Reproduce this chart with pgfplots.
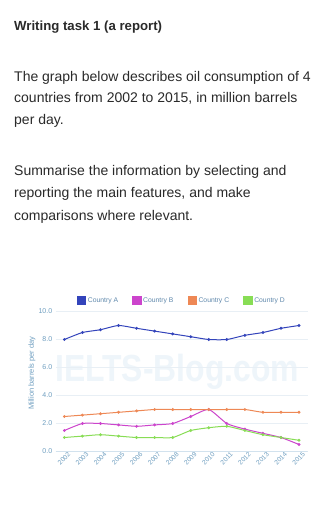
\documentclass[border=0pt]{standalone}
\usepackage{fontspec}
\setmainfont{Liberation Sans}
\usepackage{pgfplots}
\pgfplotsset{compat=1.18}
\definecolor{txt}{HTML}{2A2A2A}
\definecolor{ca}{HTML}{3344BB}
\definecolor{cb}{HTML}{CC44CC}
\definecolor{cc}{HTML}{EE8855}
\definecolor{cd}{HTML}{88DD55}
\definecolor{ticktxt}{HTML}{6E9EC0}
\definecolor{legtxt}{HTML}{5F88AC}
\definecolor{gridc}{HTML}{E8EFF5}
\definecolor{zeroc}{HTML}{D2E2EE}
\definecolor{wmark}{HTML}{EEF5FA}

\pgfplotstableread{
year A B C D
2002 8.0 1.5 2.5 1.0
2003 8.5 2.0 2.6 1.1
2004 8.7 2.0 2.7 1.2
2005 9.0 1.9 2.8 1.1
2006 8.8 1.8 2.9 1.0
2007 8.6 1.9 3.0 1.0
2008 8.4 2.0 3.0 1.0
2009 8.2 2.5 3.0 1.5
2010 8.0 3.0 3.0 1.7
2011 8.0 2.0 3.0 1.8
2012 8.3 1.6 3.0 1.5
2013 8.5 1.3 2.8 1.2
2014 8.8 1.0 2.8 1.0
2015 9.0 0.5 2.8 0.8
}\oil

\begin{document}
\begin{tikzpicture}
\fill[white] (0pt,0pt) rectangle (334pt,-512pt);
\node[anchor=base west, inner sep=0, text=txt, font=\fontsize{13.2}{15}\selectfont\bfseries] at (14pt,-30pt) {Writing task 1 (a report)};
\begin{scope}[every node/.style={anchor=base west, inner sep=0, text=txt, font=\fontsize{14}{16}\selectfont}]
\node at (14pt,-81pt) {The graph below describes oil consumption of 4};
\node at (14pt,-102.7pt) {countries from 2002 to 2015, in million barrels};
\node at (14pt,-124pt) {per day.};
\node at (14pt,-175.7pt) {Summarise the information by selecting and};
\node at (14pt,-197.7pt) {reporting the main features, and make};
\node at (14pt,-220pt) {comparisons where relevant.};
\end{scope}
\node[anchor=base west, inner sep=0, text=wmark, xscale=0.845, font=\fontsize{37.7}{40}\selectfont\bfseries] at (55pt,-381pt) {IELTS-Blog.com};
\node[rotate=90, inner sep=0, text=ticktxt, font=\fontsize{7.5}{8}\selectfont] at (32pt,-373pt) {Million barrels per day};
\begin{axis}[
  at={(55.7pt,-451.5pt)}, anchor=south west,
  scale only axis, width=252pt, height=140pt,
  xmin=2001.52, xmax=2015.48, ymin=0, ymax=10,
  axis line style={draw=none},
  tick style={draw=none},
  ymajorgrids, grid style={gridc, line width=0.6pt},
  ytick={0,2,4,6,8,10},
  xtick={2002,...,2015},
  /pgf/number format/assume math mode=true,
  yticklabel style={font=\fontsize{7}{8}\selectfont, /pgf/number format/.cd, fixed, fixed zerofill, precision=1},
  xticklabel style={font=\fontsize{6.6}{7}\selectfont, rotate=45, anchor=north east, inner sep=0.8pt, xshift=3pt, yshift=-1.5pt, /pgf/number format/1000 sep={}},
  ticklabel style={text=ticktxt},
  legend columns=4,
  legend style={draw=none, fill=none, at={(axis description cs:0.5,1.0764)}, anchor=center,
     font=\fontsize{6.8}{8}\selectfont, text=legtxt,
     /tikz/every odd column/.append style={column sep=0pt},
     /tikz/every even column/.append style={column sep=12.5pt},
     nodes={inner sep=1.6pt}},
  legend image code/.code={\fill[#1] (0pt,-4pt) rectangle (8.4pt,4pt);},
  every axis plot/.append style={line width=1pt, smooth, tension=0.35, mark=*, mark size=0.9pt},
]
\draw[zeroc, line width=0.8pt] (axis cs:2001.52,0) -- (axis cs:2015.48,0);
\addplot[ca] table[x=year,y=A] {\oil};
\addplot[cb] table[x=year,y=B] {\oil};
\addplot[cc] table[x=year,y=C] {\oil};
\addplot[cd] table[x=year,y=D] {\oil};
\legend{Country A, Country B, Country C, Country D}
\end{axis}
\end{tikzpicture}
\end{document}
